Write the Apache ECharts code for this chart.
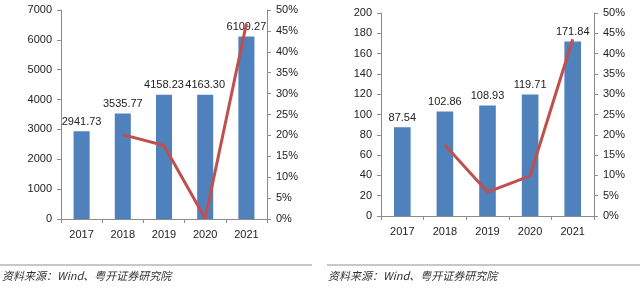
<!DOCTYPE html>
<html><head><meta charset="utf-8">
<script src="https://cdn.jsdelivr.net/npm/echarts@6/dist/echarts.min.js"></script>
<style>html,body{margin:0;padding:0;background:#fff}#c{width:640px;height:295px}</style>
</head><body><div id="c"></div>
<script>
const years = ['2017','2018','2019','2020','2021'];
const leftValues = [2941.73, 3535.77, 4158.23, 4163.30, 6109.27];
const leftGrowth = [null, 20.19, 17.60, 0.12, 46.74];
const rightValues = [87.54, 102.86, 108.93, 119.71, 171.84];
const rightGrowth = [null, 17.50, 5.90, 9.90, 43.55];
const sourceText = '资料来源：Wind、粤开证券研究院';

const FONT = 'Liberation Sans';
const barColor = '#4F81BD';
const lineColor = '#C0504D';
const axisColor = '#8c8c8c';
const txt = '#222';

function valAxis(gi, max, interval, pos, pct) {
  return {
    type: 'value', gridIndex: gi, min: 0, max: max, interval: interval, position: pos,
    axisLine: {show: true, lineStyle: {color: axisColor}},
    axisTick: {show: true, length: 4, inside: false, lineStyle: {color: axisColor}},
    splitLine: {show: false},
    axisLabel: {fontFamily: FONT, fontSize: 11, color: txt, margin: 9,
      formatter: pct ? (v => v + '%') : (v => String(v))}
  };
}
function catAxis(gi) {
  return {
    type: 'category', gridIndex: gi, data: years, boundaryGap: true,
    axisLine: {show: true, lineStyle: {color: axisColor}},
    axisTick: {show: true, length: 4, lineStyle: {color: axisColor}},
    axisLabel: {fontFamily: FONT, fontSize: 11, color: txt, margin: 10}
  };
}

const chart = echarts.init(document.getElementById('c'), null, {renderer: 'canvas'});
chart.setOption({
  animation: false,
  grid: [
    {left: 61, right: 373, top: 10, bottom: 76},
    {left: 381, right: 46, top: 13, bottom: 79}
  ],
  xAxis: [catAxis(0), catAxis(1)],
  yAxis: [
    valAxis(0, 7000, 1000, 'left', false),
    valAxis(0, 50, 5, 'right', true),
    valAxis(1, 200, 20, 'left', false),
    valAxis(1, 50, 5, 'right', true)
  ],
  series: [
    {type: 'bar', xAxisIndex: 0, yAxisIndex: 0, data: leftValues, barWidth: '39%',
      itemStyle: {color: barColor},
      label: {show: true, position: 'top', distance: 4, fontFamily: FONT, fontSize: 11, color: txt,
        formatter: p => p.value.toFixed(2)}},
    {type: 'line', xAxisIndex: 0, yAxisIndex: 1, data: leftGrowth, showSymbol: false, symbol: 'none',
      lineStyle: {color: lineColor, width: 3}, z: 5},
    {type: 'bar', xAxisIndex: 1, yAxisIndex: 2, data: rightValues, barWidth: '39%',
      itemStyle: {color: barColor},
      label: {show: true, position: 'top', distance: 4, fontFamily: FONT, fontSize: 11, color: txt,
        formatter: p => p.value.toFixed(2)}},
    {type: 'line', xAxisIndex: 1, yAxisIndex: 3, data: rightGrowth, showSymbol: false, symbol: 'none',
      lineStyle: {color: lineColor, width: 3}, z: 5}
  ],
  graphic: [
    {type: 'rect', shape: {x: 0, y: 264, width: 312, height: 2}, style: {fill: '#c8c8c8'}},
    {type: 'rect', shape: {x: 327, y: 264, width: 313, height: 2}, style: {fill: '#c8c8c8'}},
    {type: 'text', x: 2, y: 270, style: {text: sourceText, fontFamily: '"Noto Sans CJK SC"', fontStyle: 'italic', fontSize: 11, fill: '#333'}},
    {type: 'text', x: 328, y: 270, style: {text: sourceText, fontFamily: '"Noto Sans CJK SC"', fontStyle: 'italic', fontSize: 11, fill: '#333'}}
  ]
});
</script></body></html>
